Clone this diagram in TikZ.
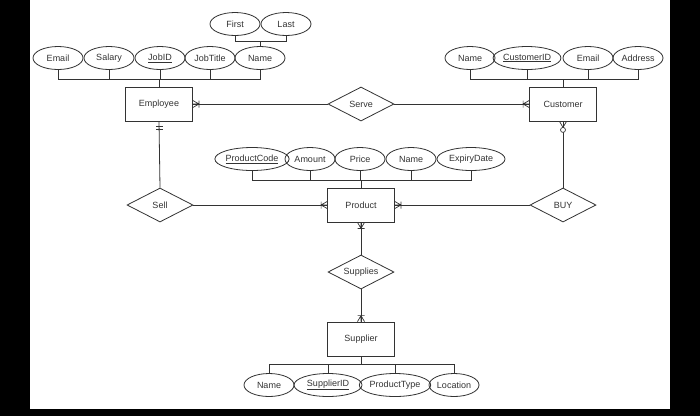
\documentclass[tikz,border=0pt]{standalone}
\usepackage{fontspec}
\setmainfont{Liberation Sans}
\usetikzlibrary{shapes.geometric}
\definecolor{ln}{HTML}{333333}
\begin{document}
\begin{tikzpicture}[x=1pt,y=-1pt,
    every node/.style={font=\fontsize{9}{10}\selectfont, text=ln},
    ent/.style={draw=ln, line width=0.8pt, minimum width=67pt, minimum height=34pt, inner sep=0pt},
    attr/.style={draw=ln, line width=0.8pt, ellipse, minimum width=50pt, minimum height=23pt, inner sep=0pt},
    rel/.style={draw=ln, line width=0.8pt, diamond, aspect=2, minimum width=66pt, minimum height=34pt, inner sep=0pt},
    con/.style={draw=ln, line width=0.8pt},
    manyone/.pic={\draw[ln, line width=0.7pt] (0,-3.5) -- (6,0) -- (0,3.5) (0,0) -- (6,0) (6,-3.5) -- (6,3.5);},
    onlyone/.pic={\draw[ln, line width=0.7pt] (5,-3.5) -- (5,3.5) (8,-3.5) -- (8,3.5);},
    zeromany/.pic={\draw[ln, line width=0.7pt] (0,-3.5) -- (6,0) -- (0,3.5); \draw[ln, line width=0.7pt, fill=white] (8.5,0) circle (2.5pt);},
]
\useasboundingbox (0,0) rectangle (700,416);
\fill[white] (0,0) rectangle (700,416);
\fill[black] (0,0) rectangle (30,416);
\fill[black] (670,0) rectangle (700,416);
\fill[black] (0,409) rectangle (700,416);

% entities
\node[ent] (emp) at (159,104) {Employee};
\node[ent] (cust) at (563,104) {Customer};
\node[ent] (prod) at (361,205) {Product};
\node[ent] (sup) at (361,339) {Supplier};

% relationships
\node[rel] (serve) at (361,104) {Serve};
\node[rel] (sell) at (160,205) {Sell};
\node[rel] (buy) at (563,205) {BUY};
\node[rel] (supplies) at (361,272) {Supplies};

% employee attributes
\node[attr] (eEmail) at (58,58) {Email};
\node[attr] (eSalary) at (109,58) {Salary};
\node[attr] (eJobID) at (160,58) {\underline{JobID}};
\node[attr] (eJobTitle) at (210,58) {JobTitle};
\node[attr] (eName) at (260,58) {Name};
\node[attr] (nFirst) at (235,24) {First};
\node[attr] (nLast) at (286,24) {Last};
\coordinate (eb) at (159,79);
\coordinate (nb) at (260,41);
\draw[con] (emp.north) -- (eb);
\foreach \a in {eEmail,eSalary,eJobID,eJobTitle,eName} \draw[con] (\a.south) |- (eb);
\draw[con] (eName.north) -- (nb);
\foreach \a in {nFirst,nLast} \draw[con] (\a.south) |- (nb);

% customer attributes
\node[attr] (cName) at (470,58) {Name};
\node[attr, minimum width=61pt] (cID) at (527,58) {\underline{CustomerID}};
\node[attr] (cEmail) at (588,58) {Email};
\node[attr] (cAddr) at (638,58) {Address};
\coordinate (cb) at (563,79);
\draw[con] (cust.north) -- (cb);
\foreach \a in {cName,cID,cEmail,cAddr} \draw[con] (\a.south) |- (cb);

% product attributes
\node[attr, minimum width=67pt] (pCode) at (252,159) {\underline{ProductCode}};
\node[attr] (pAmount) at (310,159) {Amount};
\node[attr] (pPrice) at (360,159) {Price};
\node[attr] (pName) at (411,159) {Name};
\node[attr, minimum width=68pt] (pExp) at (471,159) {ExpiryDate};
\coordinate (pb) at (361,180);
\draw[con] (prod.north) -- (pb);
\foreach \a in {pCode,pAmount,pPrice,pName,pExp} \draw[con] (\a.south) |- (pb);

% supplier attributes
\node[attr] (sName) at (269,385) {Name};
\node[attr, minimum width=68pt] (sID) at (328,385) {\underline{SupplierID}};
\node[attr, minimum width=66pt] (sType) at (395,385) {ProductType};
\node[attr] (sLoc) at (454,385) {Location};
\coordinate (sb) at (361,364);
\draw[con] (sup.south) -- (sb);
\foreach \a in {sName,sID,sType,sLoc} \draw[con] (\a.north) |- (sb);

% relationship lines
\draw[con] (emp.east) -- (serve.west);
\draw[con] (serve.east) -- (cust.west);
\draw[con] (emp.south) -- (sell.north);
\draw[con] (sell.east) -- (prod.west);
\draw[con] (cust.south) -- (buy.north);
\draw[con] (buy.west) -- (prod.east);
\draw[con] (prod.south) -- (supplies.north);
\draw[con] (supplies.south) -- (sup.north);

% cardinality marks
\pic at (emp.east) {manyone};
\pic[rotate=180] at (cust.west) {manyone};
\pic[rotate=-90] at (emp.south) {onlyone};
\pic[rotate=180] at (prod.west) {manyone};
\pic at (prod.east) {manyone};
\pic[rotate=-90] at (cust.south) {zeromany};
\pic[rotate=-90] at (prod.south) {manyone};
\pic[rotate=90] at (sup.north) {manyone};
\end{tikzpicture}
\end{document}
